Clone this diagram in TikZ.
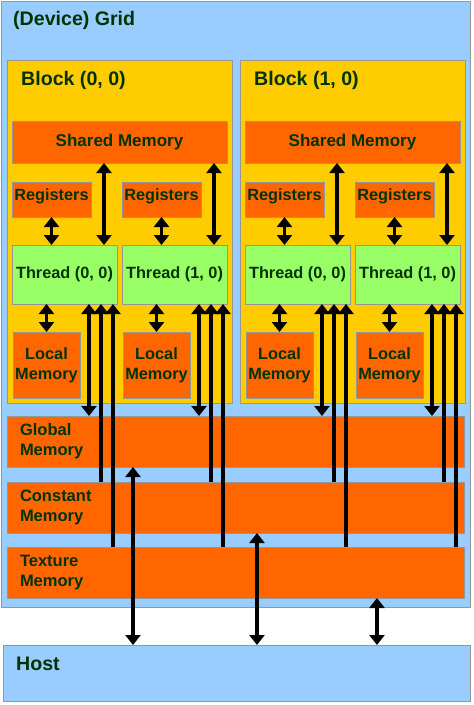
\documentclass[tikz,border=0pt]{standalone}
\usepackage{fontspec}
\setmainfont{Liberation Sans}
\usepackage{tikz}
\usetikzlibrary{arrows.meta,positioning,calc}
\definecolor{gridblue}{RGB}{153,204,255}
\definecolor{blockyel}{RGB}{255,204,0}
\definecolor{memorg}{RGB}{255,102,0}
\definecolor{thgreen}{RGB}{153,255,102}
\definecolor{txtgreen}{RGB}{0,51,0}
\definecolor{edge}{RGB}{150,150,150}
\tikzset{
  box/.style={draw=edge,line width=0.6pt,fill=#1,outer sep=0pt,inner sep=0pt,anchor=north west,text=txtgreen,font=\fontsize{16.3}{20}\selectfont\bfseries,align=center},
  box/.default={memorg},
  ttl/.style={text=txtgreen,font=\fontsize{19.6}{22}\selectfont\bfseries,anchor=west,inner sep=0pt},
  mem/.style={box,minimum width=457pt,minimum height=51pt,text width=431pt,align=left,font=\fontsize{16.5}{20}\selectfont\bfseries},
  dbl/.style={{Triangle[width=15pt,length=10pt]}-{Triangle[width=15pt,length=10pt]},line width=3.3pt},
  up/.style={{Triangle[width=15pt,length=10pt]}-,line width=3.3pt},
}
\begin{document}
\begin{tikzpicture}[x=1pt,y=-1pt]
 \useasboundingbox (0,0) rectangle (474,705);
 \node[box=gridblue,minimum width=469pt,minimum height=606pt] (grid) at (1,1) {};
 \node[ttl] at (13,20) {(Device) Grid};
 \node[box=gridblue,minimum width=467pt,minimum height=56pt] (host) at (3,645) {};
 \node[ttl] at ($(host.north west)+(13,19)$) {Host};
 \node[mem] (gm) at (7,416) {Global\\Memory};
 \node[mem] (cm) at (7,482) {Constant\\Memory};
 \node[mem] (tm) at (7,547) {Texture\\Memory};
 \foreach \b/\bx in {0/7,1/240}{
  \node[box=blockyel,minimum width=225pt,minimum height=343pt] (blk\b) at (\bx,60) {};
  \node[ttl] at ($(blk\b.north west)+(14,20)$) {Block (\b, 0)};
  \node[box,minimum width=215pt,minimum height=42pt,font=\fontsize{17}{20}\selectfont\bfseries] (sm\b) at ($(blk\b.north west)+(5,61)$) {Shared Memory};
  \foreach \t/\tx in {0/5,1/115}{
   \node[box,minimum width=79pt,minimum height=35pt,text depth=9.5pt] (reg\b\t) at ($(blk\b.north west)+(\tx,122)$) {Registers};
   \node[box=thgreen,minimum width=105pt,minimum height=59pt] (th\b\t) at ($(blk\b.north west)+(\tx,185)$) {Thread (\t, 0)};
   \node[box,minimum width=67pt,minimum height=66pt] (lm\b\t) at ($(blk\b.north west)+(\tx+1,272)$) {Local\\Memory};
   \draw[dbl] (reg\b\t.south) -- (reg\b\t.south |- th\b\t.north);
   \draw[dbl] ([xshift=-13pt]th\b\t.north east) -- ([xshift=-13pt]th\b\t.north east |- sm\b.south);
   \draw[dbl] (lm\b\t.north) -- (lm\b\t.north |- th\b\t.south);
   \draw[dbl] ([xshift=-28pt]th\b\t.south east) -- ([xshift=-28pt]th\b\t.south east |- gm.north);
   \draw[up] ([xshift=-16pt]th\b\t.south east) -- ([xshift=-16pt]th\b\t.south east |- cm.north);
   \draw[up] ([xshift=-4pt]th\b\t.south east) -- ([xshift=-4pt]th\b\t.south east |- tm.north);
  }
 }
 \foreach \hx/\m in {130/gm,254/cm,374/tm}
  \draw[dbl] ([xshift=\hx pt]host.north west) -- ([xshift=\hx pt]host.north west |- \m.south);
\end{tikzpicture}
\end{document}
